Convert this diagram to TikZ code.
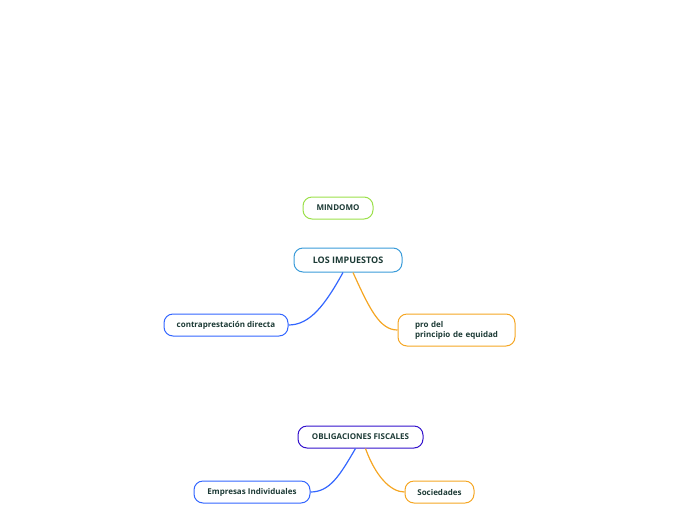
\documentclass[tikz,border=0pt]{standalone}
\usepackage{fontspec}
\setmainfont{Open Sans}
\begin{document}
\begin{tikzpicture}[x=1pt,y=-1pt,
  box/.style={draw,rounded corners=9pt,line width=1pt,text=txt,font=\bfseries\fontsize{8}{10}\selectfont,inner sep=0pt,minimum height=22pt},
  ln/.style={line width=1.2pt}]
\definecolor{txt}{HTML}{1C3A35}
\definecolor{lg}{HTML}{9BE04A}
\definecolor{lb}{HTML}{3A9BD9}
\definecolor{bl}{HTML}{3366FF}
\definecolor{or}{HTML}{F5A623}
\definecolor{pu}{HTML}{3311CC}
\useasboundingbox (0,0) rectangle (696,520);
\node[box,draw=lg,minimum width=70pt] (m) at (338,208) {MINDOMO};
\node[box,draw=lb,minimum width=108pt,minimum height=24pt,font=\bfseries\fontsize{9}{11}\selectfont] (li) at (348,260) {LOS IMPUESTOS};
\node[box,draw=bl,minimum width=124pt] (cd) at (226,325) {contraprestación directa};
\node[box,draw=or,minimum width=117pt,minimum height=32pt,align=left,text width=83pt] (pe) at (456.5,330) {pro del\\principio de equidad};
\node[box,draw=pu,minimum width=125pt] (of) at (360.5,437) {OBLIGACIONES FISCALES};
\node[box,draw=bl,minimum width=116pt] (ei) at (252,492) {Empresas Individuales};
\node[box,draw=or,minimum width=69pt] (so) at (439.5,492) {Sociedades};
\draw[ln,bl] ([xshift=-5pt]li.south) .. controls (325,305) and (310,325) .. (cd.east);
\draw[ln,or] ([xshift=5pt]li.south) .. controls (370,310) and (380,330) .. (pe.west);
\draw[ln,bl] ([xshift=-5pt]of.south) .. controls (340,475) and (330,492) .. (ei.east);
\draw[ln,or] ([xshift=5pt]of.south) .. controls (375,475) and (390,492) .. (so.west);
\end{tikzpicture}
\end{document}
